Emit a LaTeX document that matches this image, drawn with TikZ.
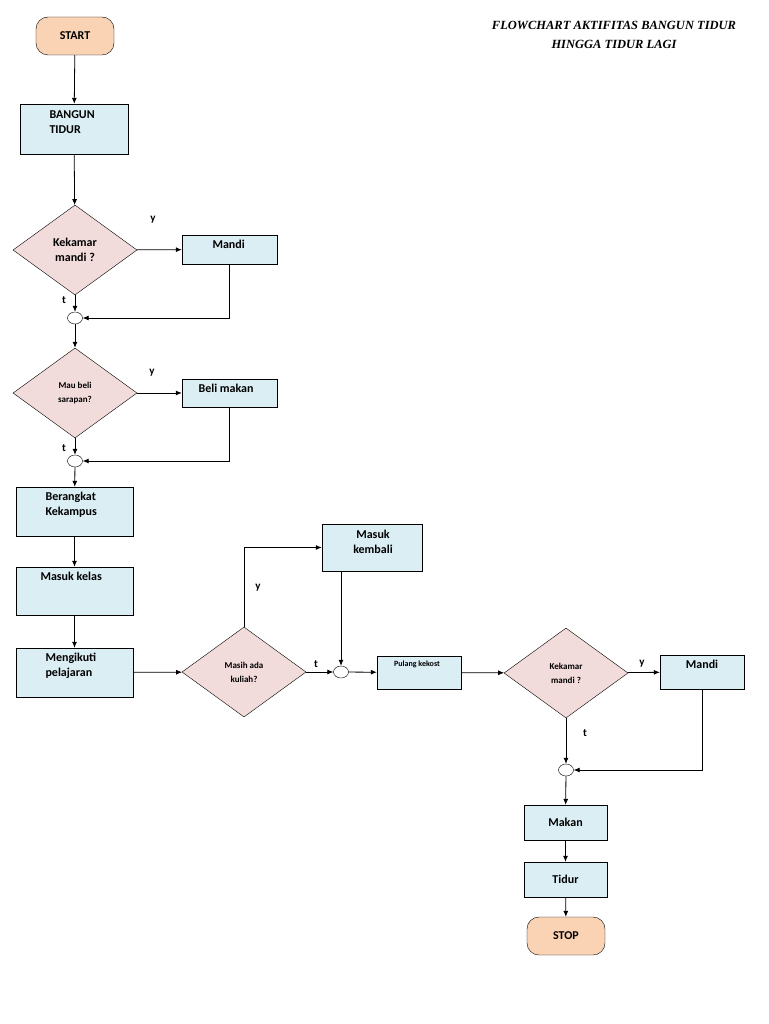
\documentclass[tikz,border=0pt]{standalone}
\usepackage{fontspec}
\setmainfont{Carlito}
\newfontfamily\titlefont{Liberation Serif}
\usetikzlibrary{shapes.geometric,arrows.meta}
\definecolor{peach}{HTML}{FAD2B4}
\definecolor{lblue}{HTML}{DBEEF4}
\definecolor{lpink}{HTML}{F2DCDB}
\begin{document}
\begin{tikzpicture}[x=1pt,y=-1pt,font=\bfseries\fontsize{12}{15}\selectfont,
  term/.style={draw,fill=peach,rounded corners=12pt,minimum width=78pt,minimum height=38pt},
  proc/.style={draw,fill=lblue,align=left,inner sep=0pt},
  dec/.style={draw,fill=lpink,diamond,aspect=1.4,minimum width=124pt,minimum height=90pt,inner sep=0pt,align=center},
  jn/.style={draw,ellipse,fill=white,minimum width=15pt,minimum height=12pt,inner sep=0pt},
  lbl/.style={font=\bfseries\fontsize{11}{13}\selectfont},
  arr/.style={-{Latex[length=6pt,width=5pt]},thick}]
\useasboundingbox (0,0) rectangle (768,1024);
% title
\node[font=\titlefont\bfseries\itshape\fontsize{12.5}{19}\selectfont,align=center] (title) at (614,35) {FLOWCHART AKTIFITAS BANGUN TIDUR\\HINGGA TIDUR LAGI};
% left column
\node[term] (start) at (75,36) {START};
\node[proc,minimum width=108pt,minimum height=50pt] (bangun) at (74,129) {};
\node[align=left,anchor=north west] at (46,107) {BANGUN\\TIDUR};
\node[dec] (d1) at (75,250) {Kekamar\\mandi ?};
\node[proc,minimum width=95pt,minimum height=29pt] (mandi1) at (229.5,249.5) {};
\node[anchor=north west] at (209,237) {Mandi};
\node[jn] (j1) at (75,318) {};
\node[dec,font=\bfseries\fontsize{9}{14}\selectfont] (d2) at (75,393) {Mau beli\\sarapan?};
\node[proc,minimum width=95pt,minimum height=28pt] (beli) at (229.5,393) {};
\node[anchor=north west] at (195,381) {Beli makan};
\node[jn] (j2) at (75,461) {};
\node[proc,minimum width=117pt,minimum height=49pt] (berangkat) at (74.5,511.5) {};
\node[align=left,anchor=north west] at (42,489) {Berangkat\\Kekampus};
\node[proc,minimum width=117pt,minimum height=48pt] (kelas) at (74.5,591) {};
\node[anchor=north west] at (37,569) {Masuk kelas};
\node[proc,minimum width=117pt,minimum height=49pt] (ikut) at (74.5,672.5) {};
\node[align=left,anchor=north west] at (42,650) {Mengikuti\\pelajaran};
% middle
\node[dec,font=\bfseries\fontsize{9}{14}\selectfont] (d3) at (244,672) {Masih ada\\kuliah?};
\node[proc,minimum width=100pt,minimum height=47pt] (kembali) at (372,547.5) {};
\node[align=center,anchor=north] at (373,527) {Masuk\\kembali};
\node[jn] (j3) at (341,672) {};
\node[proc,minimum width=84pt,minimum height=33pt] (pulang) at (419,672.5) {};
\node[anchor=north,font=\bfseries\fontsize{8}{10}\selectfont] at (417,657) {Pulang kekost};
% right column
\node[dec,font=\bfseries\fontsize{9}{14}\selectfont] (d4) at (566,673) {Kekamar\\mandi ?};
\node[proc,minimum width=84pt,minimum height=34pt] (mandi2) at (702,672) {};
\node[anchor=north] at (702,657) {Mandi};
\node[jn] (j4) at (566,770) {};
\node[proc,minimum width=83pt,minimum height=35pt] (makan) at (565.5,822.5) {Makan};
\node[proc,minimum width=83pt,minimum height=35pt] (tidur) at (565.5,879.5) {Tidur};
\node[term] (stop) at (566,936) {STOP};
% labels
\node[lbl] at (153,220) {y};
\node[lbl] at (64,300) {t};
\node[lbl] at (152,373) {y};
\node[lbl] at (64,448) {t};
\node[lbl] at (258,588) {y};
\node[lbl] at (316,664) {t};
\node[lbl] at (642,664) {y};
\node[lbl] at (585,733) {t};
% connectors
\draw[arr] (start) -- (bangun);
\draw[arr] (bangun) -- (d1);
\draw[arr] (d1) -- (mandi1);
\draw[arr] (d1) -- (j1);
\draw[arr] (mandi1.south) |- (j1);
\draw[arr] (j1) -- (d2);
\draw[arr] (d2) -- (beli);
\draw[arr] (d2) -- (j2);
\draw[arr] (beli.south) |- (j2);
\draw[arr] (j2) -- (berangkat);
\draw[arr] (berangkat) -- (kelas);
\draw[arr] (kelas) -- (ikut);
\draw[arr] (ikut) -- (d3);
\draw[arr] (d3.north) |- (kembali);
\draw[arr] (d3) -- (j3);
\draw[arr] (kembali.south -| j3) -- (j3);
\draw[arr] (j3) -- (pulang);
\draw[arr] (pulang) -- (d4);
\draw[arr] (d4) -- (mandi2);
\draw[arr] (d4) -- (j4);
\draw[arr] (mandi2.south) |- (j4);
\draw[arr] (j4) -- (makan);
\draw[arr] (makan) -- (tidur);
\draw[arr] (tidur) -- (stop);
\end{tikzpicture}
\end{document}
